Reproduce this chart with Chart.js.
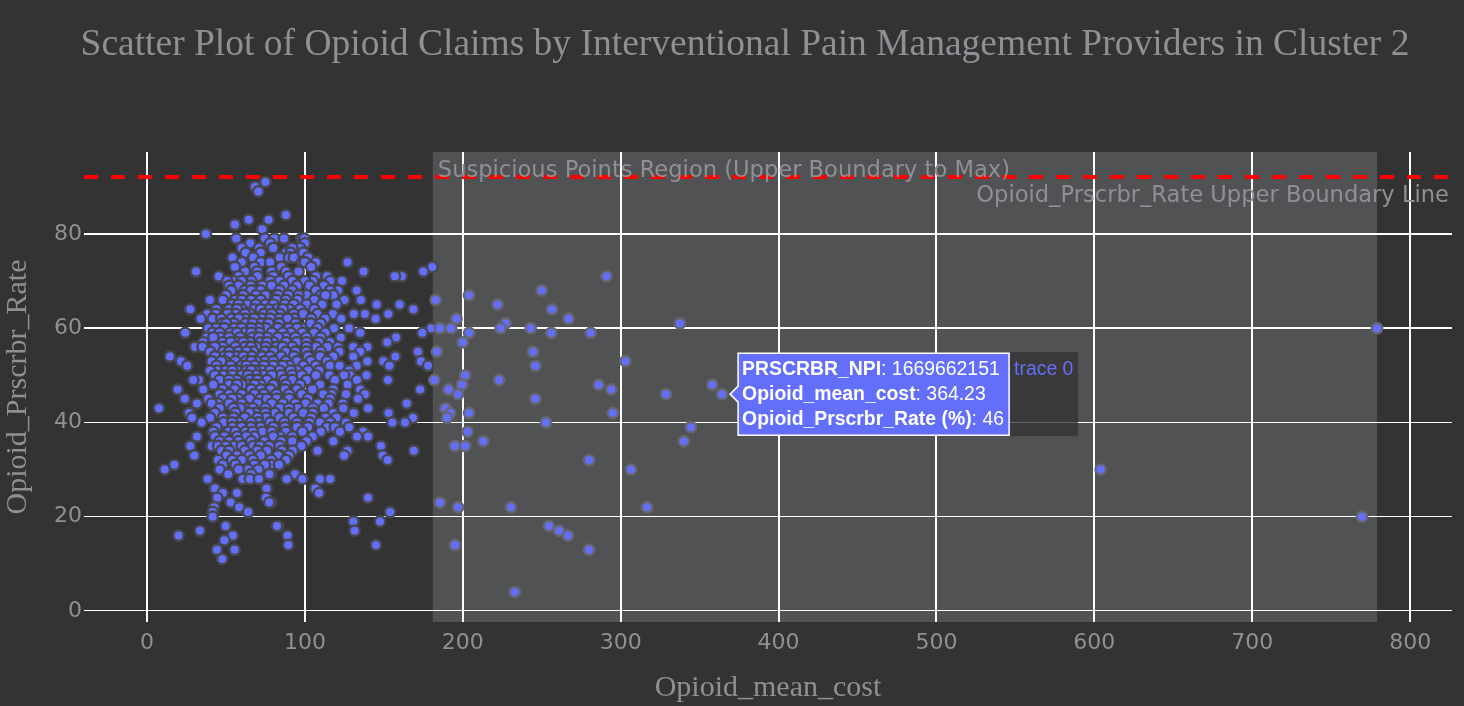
<!DOCTYPE html>
<html lang="en">
<head>
<meta charset="UTF-8">
<title>Opioid Claims Scatter</title>
<script src="https://cdn.jsdelivr.net/npm/chart.js"></script>
<style>
    body { margin: 0; background: #333333; overflow: hidden; }
    canvas { display: block; }
</style>
</head>
<body>
<canvas id="scatterChart" width="1464" height="706"></canvas>
<script>
// Prescriber rates and the mean costs at each rate
const rates = [91,90,89,84,83,82,81,80,79,78,77,76,75,74,73,72,71,70,69,68,67,66,65,64,63,62,61,60,59,58,57,56,55,54,53,52,51,50,49,48,47,46,45,44,43,42,41,40,39,38,37,36,35,34,33,32,31,30,29,28,26,25,24,23,22,21,20,19,18,17,16,15,14,13,11,4];
const costsAtRate = [
    [75],
    [68.4],
    [70.5],
    [88],
    [64.4, 77],
    [55.7],
    [73],
    [37.3],
    [56.5, 74.7, 80.6, 86.8, 97.7, 99.5],
    [65.4, 78, 100],
    [79.6, 71, 60, 80, 97, 92],
    [62.5, 88, 91, 72, 99],
    [54.2, 67.3, 84, 90, 102, 93],
    [72, 98.4, 107, 127, 78, 60, 100],
    [55.7, 180.7, 68, 85, 104],
    [31, 69.8, 78.9, 137.2, 175, 88, 62, 96],
    [45.4, 161.3, 114, 89.5, 70, 157, 107, 80, 58, 291],
    [54.6, 50.8, 105, 123.5, 66, 78, 92, 100, 116, 60, 84],
    [65.6, 86.8, 73, 58, 95, 112, 103, 79, 52],
    [72, 53.4, 121, 132.8, 84, 62, 107, 116, 250, 66, 92],
    [61, 110.4, 101, 89.5, 204, 75, 50, 96, 118, 113, 83, 69],
    [39.9, 82, 95.4, 125, 135.5, 182.8, 66, 56, 106, 72, 48, 88, 60],
    [63.3, 75, 101, 87.4, 145.5, 160, 222, 54, 93, 111, 120, 69, 80, 58],
    [51.9, 82, 27.4, 77, 168.7, 256.5, 68, 60, 97, 44, 106, 90, 72, 57, 86],
    [38.2, 43.7, 117.8, 138, 152.8, 93, 56, 74, 65, 84, 108, 51, 79, 62, 99, 131],
    [41.6, 53.6, 72.8, 112.7, 123, 144.8, 93.3, 196, 267, 62, 84, 104, 34, 68, 78, 47, 89, 58],
    [47.7, 62.5, 83.1, 83.8, 103.6, 227, 337.5, 55, 72, 94, 67, 110, 50, 77],
    [55.3, 75.3, 70.7, 38.8, 118.4, 180, 185.5, 192.5, 224, 243, 66, 90, 98, 44, 108, 60, 83, 128, 49, 95],
    [24.2, 41.6, 62, 174.4, 91, 98.4, 105.8, 281, 256, 204, 53, 71, 86, 46, 113, 79, 66, 57, 135],
    [37.8, 46.2, 66.9, 157.7, 122.7, 59, 76, 88, 101, 52, 94, 71, 110, 42, 83],
    [57.4, 80, 35.6, 152.2, 94.8, 101.1, 200, 65, 48, 72, 88, 116, 53, 109, 61, 76],
    [30.4, 35.2, 62, 75.3, 82, 130.7, 139.5, 114.2, 107.2, 48, 56, 69, 92, 43, 101, 86, 121, 66],
    [48.3, 52.1, 67.3, 101, 121.8, 171.6, 183.6, 244.5, 58, 75, 88, 94, 40, 110, 80, 63, 135],
    [14.5, 48.7, 56.8, 66.3, 157.3, 109.6, 93, 130.7, 73, 43, 85, 102, 61, 78, 52, 118],
    [21.5, 49.2, 62.7, 74.5, 103.7, 139.5, 149.7, 303, 173.5, 56, 88, 69, 95, 41, 80, 114, 66, 47],
    [25.5, 59.9, 80, 153.5, 178, 115.9, 99, 90.1, 132.8, 246, 44, 68, 107, 53, 74, 86, 63, 122],
    [44.1, 72.6, 68.4, 57, 84, 95, 50, 63, 109, 78, 40, 91, 128, 54, 102, 66],
    [92, 107, 115.5, 128.6, 124.8, 48.3, 201.5, 60, 74, 85, 54, 43, 69, 98, 79, 64, 139],
    [152.6, 101, 182, 32.9, 29.3, 56.8, 223, 65, 46, 87, 76, 119, 52, 92, 70, 133],
    [109.6, 64.6, 199.5, 286, 358, 52, 80, 72, 97, 42, 60, 88, 127, 68, 57],
    [87.4, 104.7, 118, 173, 19.4, 35.6, 47.9, 55.5, 78.3, 191, 294, 66, 95, 72, 135],
    [98, 126, 117, 111.7, 197, 328.7, 364.23, 46, 60, 82, 74, 52, 90, 68, 138],
    [82.5, 90, 133.6, 24, 38.8, 57.8, 64.4, 82, 246, 48, 72, 102, 116, 54, 65, 76],
    [100.5, 115, 164.5, 31.6, 45, 60, 70, 86, 94, 124, 52, 79, 108, 41],
    [140, 124.3, 95.4, 7.6, 46, 63.5, 59, 54.6, 189, 75, 84, 105, 67, 112, 90],
    [153, 105, 81, 26.6, 69, 64.8, 192, 204, 295, 43, 56, 90, 118, 75, 131, 99],
    [92.7, 120, 28.5, 40, 75.5, 190, 168.5, 48, 62, 84, 104, 55, 113, 70],
    [109.6, 126, 116, 155.4, 163.4, 34.6, 48.5, 70.5, 252.7, 66, 58, 78, 95, 87, 54, 103],
    [87.4, 114.2, 54.2, 60, 344.5, 72, 44, 102, 128, 80, 66, 95, 119],
    [98.4, 122.2, 42, 62.5, 73, 51.7, 203, 88, 137, 110, 56, 79, 67],
    [133, 140, 31.6, 57.2, 68, 84, 49, 80, 92, 63, 105, 43],
    [101, 74.5, 340, 213, 46, 58, 92, 118, 85, 66, 52],
    [97.8, 148.2, 27.4, 41, 45.1, 67.3, 71.5, 77.4, 201.5, 195, 55, 84, 60, 50],
    [127, 169, 47.2, 92.3, 85.5, 62, 52, 108, 76, 70],
    [124.8, 149.3, 90, 84.2, 30, 50.4, 83, 72, 65, 57],
    [152.4, 45, 78.7, 280, 60, 88, 54, 67],
    [84.2, 78.5, 56, 17.3, 74.7, 83.6, 68, 48],
    [11.2, 70.5, 306.5, 604, 46, 64, 58],
    [93.7, 78.5, 51.5, 77.6, 66],
    [88.5, 98.4, 109.6, 116, 38.4, 60.6, 65.2, 70.9],
    [106.6, 43, 75.8],
    [109, 48, 57],
    [140, 44.5, 75.3],
    [78.5, 53, 77.4, 185.5],
    [58.4, 42.6, 197, 230.5, 316.7],
    [154, 64, 41.6],
    [41.6, 769.5],
    [130.7, 147.6],
    [83, 49.8, 82.3, 254.6],
    [131.5, 33.5, 261],
    [89, 54.4, 20, 266.6],
    [49],
    [145, 89.5, 195],
    [44.3, 55.5, 280],
    [47.7],
    [233]
];
const extraCosts = [779];   // lone point far right of the 60 row
const extraRates = [60];

const xTicks = [0, 100, 200, 300, 400, 500, 600, 700, 800];
const yTicks = [0, 20, 40, 60, 80];
const upperBoundaryRate = 92.1;
const regionStart = 181;
const regionEnd = 779;
const hoverCost = 364.23;
const hoverRate = 46;
const tooltipLines = [
    ['PRSCRBR_NPI', ': 1669662151'],
    ['Opioid_mean_cost', ': 364.23'],
    ['Opioid_Prscrbr_Rate (%)', ': 46']
];

const points = rates.flatMap((r, i) => costsAtRate[i].map(c => ({ x: c, y: r })));
extraCosts.forEach((c, i) => points.push({ x: c, y: extraRates[i] }));

const TEXT_COLOR = '#8f9095';
const X_MIN = -39.9, X_MAX = 826.5;

// shaded region goes under the grid, labels and hover box go over everything
const overlayPlugin = {
    id: 'overlay',
    afterLayout(chart) {
        // title is centred a bit right of the canvas centre
        chart.titleBlock.left = 38;
    },
    beforeDraw(chart) {
        const { ctx, chartArea, scales } = chart;
        const x0 = scales.x.getPixelForValue(regionStart);
        const x1 = scales.x.getPixelForValue(regionEnd);
        ctx.save();
        ctx.fillStyle = '#515253';
        ctx.fillRect(x0, chartArea.top, x1 - x0, chartArea.bottom - chartArea.top);
        ctx.restore();
    },
    afterDraw(chart) {
        const { ctx, chartArea, scales } = chart;
        ctx.save();
        ctx.textBaseline = 'middle';
        ctx.fillStyle = TEXT_COLOR;
        ctx.font = '22.6px "DejaVu Sans"';
        ctx.textAlign = 'left';
        ctx.fillText('Suspicious Points Region (Upper Boundary to Max)', scales.x.getPixelForValue(regionStart) + 5, chartArea.top + 19);
        ctx.textAlign = 'right';
        ctx.fillText('Opioid_Prscrbr_Rate Upper Boundary Line', chartArea.right - 3, scales.y.getPixelForValue(upperBoundaryRate) + 19);

        // hover label
        const px = scales.x.getPixelForValue(hoverCost);
        const py = scales.y.getPixelForValue(hoverRate);
        const left = px + 16, right = left + 271, top = py - 41, bottom = py + 41;
        ctx.fillStyle = 'rgba(51,51,51,0.75)';
        ctx.fillRect(right, top - 1, 69, bottom - top + 2);
        ctx.beginPath();
        ctx.moveTo(px + 8, py);
        ctx.lineTo(left, py - 8);
        ctx.lineTo(left, top);
        ctx.lineTo(right, top);
        ctx.lineTo(right, bottom);
        ctx.lineTo(left, bottom);
        ctx.lineTo(left, py + 8);
        ctx.closePath();
        ctx.fillStyle = '#636efa';
        ctx.fill();
        ctx.lineWidth = 1.5;
        ctx.strokeStyle = '#ffffff';
        ctx.stroke();
        ctx.textAlign = 'left';
        tooltipLines.forEach((line, i) => {
            const ly = py - 25 + i * 25;
            ctx.fillStyle = '#ffffff';
            ctx.font = 'bold 19.4px "Liberation Sans"';
            ctx.fillText(line[0], left + 4, ly + 1);
            const w = ctx.measureText(line[0]).width;
            ctx.font = '19.4px "Liberation Sans"';
            ctx.fillText(line[1], left + 4 + w, ly + 1);
        });
        ctx.fillStyle = '#636efa';
        ctx.fillText('trace 0', right + 5, py - 24);
        ctx.restore();
    }
};

new Chart(document.getElementById('scatterChart'), {
    type: 'scatter',
    data: {
        datasets: [
            {
                label: 'trace 0',
                data: points,
                backgroundColor: '#636efa',
                borderColor: ctx => (ctx.raw && ctx.raw.x >= regionStart ? '#66666c' : '#47474e'),
                borderWidth: 2.4,
                pointRadius: 5.2,
                order: 2
            },
            {
                label: 'Upper Boundary',
                type: 'line',
                data: [{ x: X_MIN, y: upperBoundaryRate }, { x: X_MAX, y: upperBoundaryRate }],
                borderColor: '#ff0000',
                borderWidth: 4,
                borderDash: [14, 13],
                pointRadius: 0,
                order: 1
            }
        ]
    },
    options: {
        responsive: false,
        animation: false,
        events: [],
        layout: { padding: { left: 0, right: 12, top: 0, bottom: 0 } },
        plugins: {
            legend: { display: false },
            tooltip: { enabled: false },
            title: {
                display: true,
                text: 'Scatter Plot of Opioid Claims by Interventional Pain Management Providers in Cluster 2',
                color: TEXT_COLOR,
                font: { family: '"Liberation Serif"', size: 37.5, weight: 'normal' },
                padding: { top: 23, bottom: 84 }
            }
        },
        scales: {
            x: {
                type: 'linear',
                min: X_MIN,
                max: X_MAX,
                afterBuildTicks(axis) { axis.ticks = xTicks.map(v => ({ value: v })); },
                afterFit(axis) { axis.height = 84; },
                ticks: { color: TEXT_COLOR, font: { family: '"DejaVu Sans"', size: 22 }, padding: 8, maxRotation: 0, autoSkip: false },
                grid: { color: '#ffffff', lineWidth: 2, drawTicks: false },
                border: { display: false },
                title: {
                    display: true,
                    text: 'Opioid_mean_cost',
                    color: TEXT_COLOR,
                    font: { family: '"Liberation Serif"', size: 30 },
                    padding: { top: 3, bottom: 0 }
                }
            },
            y: {
                min: -2.35,
                max: 97.38,
                afterBuildTicks(axis) { axis.ticks = yTicks.map(v => ({ value: v })); },
                afterFit(axis) { axis.width = 84; },
                ticks: { color: TEXT_COLOR, font: { family: '"DejaVu Sans"', size: 22 }, padding: 2, autoSkip: false },
                grid: {
                    color: '#ffffff',
                    lineWidth: ctx => (ctx.tick && ctx.tick.value >= 60 ? 2 : 1),
                    drawTicks: false
                },
                border: { display: false },
                title: {
                    display: true,
                    text: 'Opioid_Prscrbr_Rate',
                    color: TEXT_COLOR,
                    font: { family: '"Liberation Serif"', size: 30 },
                    padding: { top: 0, bottom: 0 }
                }
            }
        }
    },
    plugins: [overlayPlugin]
});
</script>
</body>
</html>
